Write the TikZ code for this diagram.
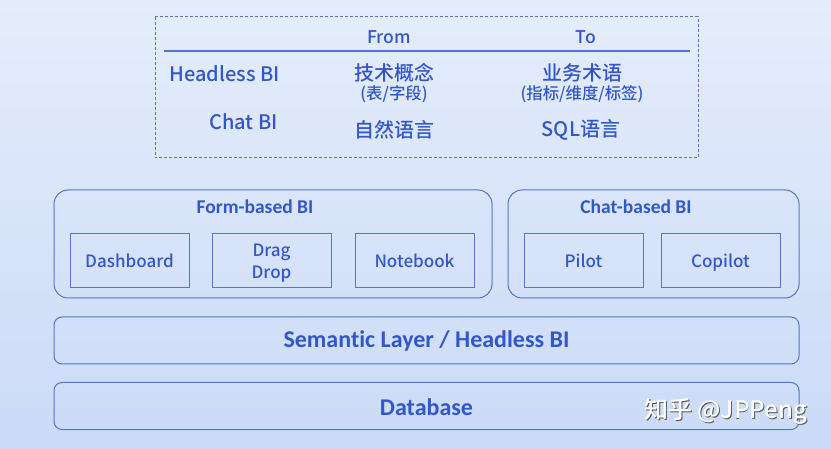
\documentclass[tikz,border=0pt]{standalone}
\usepackage{fontspec}
\setmainfont{Noto Sans CJK SC}[UprightFont={* Medium}]
\newfontfamily\titlefont{Carlito}[Ligatures=NoCommon]
\definecolor{txt}{HTML}{3356CC}
\definecolor{ln}{HTML}{5574CC}
\definecolor{bgtop}{HTML}{E5EDFB}
\definecolor{bgbot}{HTML}{CADAF7}
\tikzset{
  outer/.style={draw=ln, line width=1pt, rounded corners=14pt},
  layer/.style={draw=ln, line width=1pt, rounded corners=8pt, minimum width=745pt, minimum height=47pt},
  item/.style={draw=ln, line width=1pt, minimum width=119pt, minimum height=54pt, text=txt, font=\fontsize{17}{19}\selectfont, align=center, text height=14pt, text depth=0pt},
  tabtxt/.style={text=txt, font=\fontsize{20}{22}\selectfont, inner sep=0pt},
  subtxt/.style={text=txt, font=\fontsize{16.4}{18}\selectfont, inner sep=0pt},
  ttl/.style={text=txt, font=\titlefont\bfseries\fontsize{19.5}{21}\selectfont, inner sep=0pt},
  big/.style={text=txt, font=\titlefont\bfseries\fontsize{24}{26}\selectfont, inner sep=0pt},
}
\begin{document}
\begin{tikzpicture}[x=1pt, y=-1pt]
\shade[top color=bgtop, bottom color=bgbot] (0,0) rectangle (831,449);
\useasboundingbox (0,0) rectangle (831,449);
% comparison table
\draw[ln, line width=1pt, dashed, dash pattern=on 3pt off 2pt] (155,17) rectangle (698,158);
\coordinate (hl) at (164,51);
\coordinate (hr) at (690,51);
\draw[ln, line width=1.3pt] (hl) -- (hr);
\node[tabtxt, font=\fontsize{17.5}{19}\selectfont] (from) at (389,37) {From};
\node[tabtxt, font=\fontsize{17.5}{19}\selectfont] (to) at (586,37) {To};
\node[tabtxt, anchor=east] (hbi) at (280,74) {Headless BI};
\node[tabtxt] (tech) at (394,73) {技术概念};
\node[subtxt] (techs) at (394,94) {(表/字段)};
\node[tabtxt] (biz) at (582,73) {业务术语};
\node[subtxt] (bizs) at (582,94) {(指标/维度/标签)};
\node[tabtxt, anchor=east] (cbi) at (278,122) {Chat BI};
\node[tabtxt] (nl) at (394,130) {自然语言};
\node[tabtxt] (sql) at (581,130) {SQL语言};
% Form-based BI
\draw[outer] (54,190) rectangle (492,298);
\node[ttl] (form) at (255,207) {Form-based BI};
\node[item] (dash) at (129.5,261) {Dashboard};
\node[item, font=\fontsize{17}{22}\selectfont, text height=, text depth=] (drag) at (271.5,261) {};
\node[text=txt, font=\fontsize{17}{22}\selectfont, align=center, inner sep=0pt] (dragt) at (271.5,263) {Drag\\Drop};
\node[item] (note) at (414.5,261) {Notebook};
% Chat-based BI
\draw[outer] (508,190) rectangle (799,298);
\node[ttl] (chat) at (636,207) {Chat-based BI};
\node[item] (pilot) at (583.5,261) {Pilot};
\node[item] (copilot) at (720.5,261) {Copilot};
% layers
\node[layer] (sem) at (426.5,340.5) {};
\node[big] (semt) at (426.5,341) {Semantic Layer / Headless BI};
\node[layer] (db) at (426.5,406) {};
\node[big] (dbt) at (426.5,407) {Database};
% watermark
\node[text=gray!70!black, font=\fontsize{24}{26}\selectfont, inner sep=0pt] (wms) at (726.5,412) {知乎 @JPPeng};
\node[text=white, font=\fontsize{24}{26}\selectfont, inner sep=0pt] (wm) at (725.5,411) {知乎 @JPPeng};
\end{tikzpicture}
\end{document}
